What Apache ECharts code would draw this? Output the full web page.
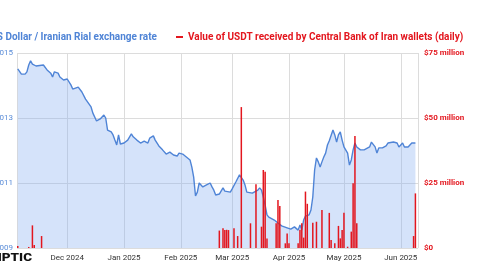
<!DOCTYPE html>
<html>
<head>
<meta charset="utf-8">
<script src="https://cdn.jsdelivr.net/npm/echarts@6/dist/echarts.min.js"></script>
<style>
  html, body { margin: 0; padding: 0; background: #fff; }
  #chart { width: 480px; height: 270px; }
</style>
</head>
<body>
<div id="chart"></div>
<script>
// rial value in USD, in units of 1e-7 (15 => 0.0000015)
const rateDates = [
  '2024-11-04','2024-11-05','2024-11-06','2024-11-07','2024-11-08','2024-11-09','2024-11-10','2024-11-11',
  '2024-11-12','2024-11-13','2024-11-14','2024-11-15','2024-11-18','2024-11-20','2024-11-22','2024-11-23',
  '2024-11-24','2024-11-26','2024-11-27','2024-11-29','2024-12-01','2024-12-03','2024-12-04','2024-12-05',
  '2024-12-07','2024-12-09','2024-12-11','2024-12-12','2024-12-14','2024-12-15','2024-12-17','2024-12-19',
  '2024-12-20','2024-12-21','2024-12-22','2024-12-23','2024-12-25','2024-12-26','2024-12-27','2024-12-28',
  '2024-12-29','2024-12-30','2025-01-01','2025-01-03','2025-01-05','2025-01-06','2025-01-08','2025-01-10',
  '2025-01-12','2025-01-14','2025-01-15','2025-01-17','2025-01-18','2025-01-20','2025-01-22','2025-01-24',
  '2025-01-26','2025-01-28','2025-01-30','2025-01-31','2025-02-02','2025-02-04','2025-02-06','2025-02-07',
  '2025-02-08','2025-02-09','2025-02-10','2025-02-11','2025-02-13','2025-02-14','2025-02-15','2025-02-17',
  '2025-02-18','2025-02-19','2025-02-20','2025-02-22','2025-02-23','2025-02-24','2025-02-25','2025-02-26',
  '2025-02-28','2025-03-01','2025-03-02','2025-03-03','2025-03-05','2025-03-07','2025-03-08','2025-03-09',
  '2025-03-12','2025-03-13','2025-03-15','2025-03-16','2025-03-17','2025-03-18','2025-03-19','2025-03-20',
  '2025-03-21','2025-03-24','2025-03-26','2025-03-28','2025-03-29','2025-03-31','2025-04-02','2025-04-03',
  '2025-04-04','2025-04-06','2025-04-07','2025-04-08','2025-04-09','2025-04-10','2025-04-12','2025-04-13',
  '2025-04-14','2025-04-15','2025-04-16','2025-04-17','2025-04-18','2025-04-19','2025-04-20','2025-04-21',
  '2025-04-22','2025-04-23','2025-04-25','2025-04-26','2025-04-27','2025-04-28','2025-04-29','2025-04-30',
  '2025-05-01','2025-05-02','2025-05-03','2025-05-04','2025-05-05','2025-05-06','2025-05-07','2025-05-08',
  '2025-05-09','2025-05-10','2025-05-11','2025-05-12','2025-05-13','2025-05-15','2025-05-16','2025-05-17',
  '2025-05-18','2025-05-19','2025-05-20','2025-05-21','2025-05-22','2025-05-24','2025-05-25','2025-05-26',
  '2025-05-28','2025-05-29','2025-05-30','2025-05-31','2025-06-01','2025-06-02','2025-06-03','2025-06-04',
  '2025-06-05','2025-06-06','2025-06-07','2025-06-08','2025-06-09'
]
const rateValues = [
  14.51,14.48,14.35,14.38,14.35,14.42,14.63,14.76,
  14.66,14.69,14.60,14.63,14.63,14.48,14.38,14.26,
  14.42,14.38,14.26,14.17,14.20,14.02,13.89,13.95,
  13.95,13.80,13.58,13.52,13.34,13.15,12.91,12.97,
  13.03,13.09,13.00,12.63,12.57,12.48,12.32,12.17,
  12.48,12.20,12.23,12.32,12.51,12.42,12.32,12.23,
  12.29,12.23,12.38,12.45,12.32,12.14,12.02,11.89,
  11.95,11.86,11.83,11.92,11.89,11.80,11.71,11.49,
  11.18,10.60,10.72,11.00,10.88,10.88,10.94,11.00,
  10.88,10.78,10.63,10.66,10.72,10.85,10.75,10.69,
  10.72,10.82,10.88,11.03,11.25,11.09,10.94,10.72,
  10.69,10.69,10.78,10.85,10.78,10.57,10.32,10.02,
  9.95,9.86,9.77,9.68,9.62,9.62,9.58,9.62,
  9.65,9.55,9.71,9.55,9.86,9.98,10.02,10.17,
  10.57,11.40,11.77,11.65,11.49,11.65,11.80,11.92,
  12.17,12.30,12.63,12.48,12.26,12.48,12.57,12.32,
  12.11,12.17,11.92,11.55,11.71,12.02,12.23,12.11,
  12.08,12.02,12.08,12.02,12.08,12.11,12.26,12.23,
  12.11,11.92,12.08,12.11,12.08,12.14,12.23,12.23,
  12.26,12.32,12.23,12.11,12.17,12.23,12.11,12.08,
  12.11,12.17,12.23,12.20,12.23
]

// USDT received, $ million per day
const usdtDates = [
  '2024-11-04','2024-11-10','2024-11-12','2024-11-13','2024-11-17',
  '2025-02-22','2025-02-24','2025-02-25','2025-02-26','2025-02-27','2025-03-02','2025-03-04','2025-03-06',
  '2025-03-11','2025-03-14','2025-03-17','2025-03-18','2025-03-19','2025-03-20','2025-03-25','2025-03-26',
  '2025-03-27','2025-03-30','2025-03-31','2025-04-01','2025-04-06','2025-04-07','2025-04-08','2025-04-09',
  '2025-04-10','2025-04-11','2025-04-14','2025-04-16','2025-04-19','2025-04-23','2025-04-24','2025-04-26',
  '2025-04-28','2025-04-29','2025-04-30','2025-05-01','2025-05-03','2025-05-05','2025-05-06','2025-05-07',
  '2025-05-08','2025-06-08','2025-06-09'
]
const usdtValues = [
  0.8,0.4,8.7,1.2,4.6,
  6.7,7.6,6.9,7.0,6.9,7.6,4.6,54.2,
  9.5,24.5,8.2,30.0,29.3,3.7,9.5,18.5,
  16.2,1.8,5.6,1.8,1.8,7.0,9.5,4.0,
  21.7,17.0,9.7,10.1,14.6,13.5,3.1,1.8,
  8.5,3.7,6.9,13.6,0.5,6.3,24.9,43.1,
  9.5,4.6,21.0
]

const leftTicks = [9, 11, 13, 15]
const rightTicks = [0, 25, 50, 75]

const blue = '#4f84d6'
const red = '#e3161e'

const chart = echarts.init(document.getElementById('chart'))

const option = {
  animation: false,
  backgroundColor: '#fff',
  textStyle: { fontFamily: 'Roboto' },
  grid: { left: 17, right: 62, top: 53, bottom: 22, containLabel: false, outerBoundsMode: 'none' },
  graphic: [
    {
      type: 'text', x: 157, y: 37,
      style: {
        text: 'US Dollar / Iranian Rial exchange rate',
        fill: blue, font: 'bold 10px Roboto', align: 'right', verticalAlign: 'middle'
      }
    },
    { type: 'rect', shape: { x: 176, y: 36, width: 7, height: 2 }, style: { fill: red } },
    {
      type: 'text', x: 188, y: 37,
      style: {
        text: 'Value of USDT received by Central Bank of Iran wallets (daily)',
        fill: red, font: 'bold 10px Roboto', align: 'left', verticalAlign: 'middle'
      }
    },
    {
      // logo, cut by the left edge like in the source
      type: 'text', x: 32, y: 258, scaleX: 1.35,
      style: {
        text: 'ELLIPTIC', fill: '#111', font: '900 10px Roboto', align: 'right', verticalAlign: 'middle'
      }
    }
  ],
  xAxis: {
    type: 'time',
    min: '2024-11-04',
    max: '2025-06-10',
    splitNumber: 7,
    axisLine: { show: false },
    axisTick: { show: false },
    axisLabel: {
      formatter: '{MMM} {yyyy}',
      color: '#333',
      fontSize: 8,
      margin: 6,
      showMinLabel: false,
      showMaxLabel: false
    },
    splitLine: { show: true, lineStyle: { color: '#dcdcdc', width: 1 } }
  },
  yAxis: [
    {
      type: 'value',
      min: leftTicks[0],
      max: leftTicks[leftTicks.length - 1],
      interval: 2,
      position: 'left',
      axisLine: { show: false },
      axisTick: { show: false },
      axisLabel: {
        color: '#5b8dd8',
        fontSize: 8,
        margin: 4,
        formatter: (v) => (v / 1e7).toFixed(7)
      },
      splitLine: { show: true, lineStyle: { color: '#dcdcdc', width: 1 } }
    },
    {
      type: 'value',
      min: rightTicks[0],
      max: rightTicks[rightTicks.length - 1],
      interval: 25,
      position: 'right',
      axisLine: { show: false },
      axisTick: { show: false },
      axisLabel: {
        color: red,
        fontSize: 8,
        fontWeight: 'bold',
        margin: 6,
        formatter: (v) => '$' + v + (v === 0 ? '' : ' million')
      },
      splitLine: { show: false }
    }
  ],
  series: [
    {
      name: 'rate',
      type: 'line',
      yAxisIndex: 0,
      data: rateDates.map((d, i) => [d, rateValues[i]]),
      showSymbol: false,
      smooth: false,
      lineStyle: { color: blue, width: 1.4 },
      areaStyle: { color: 'rgba(135,175,240,0.5)', origin: 'start' },
      z: 2
    },
    {
      name: 'usdt',
      type: 'bar',
      yAxisIndex: 1,
      data: usdtDates.map((d, i) => [d, usdtValues[i]]),
      barWidth: 1.5,
      itemStyle: { color: red },
      z: 3
    }
  ]
}

chart.setOption(option)
</script>
</body>
</html>
